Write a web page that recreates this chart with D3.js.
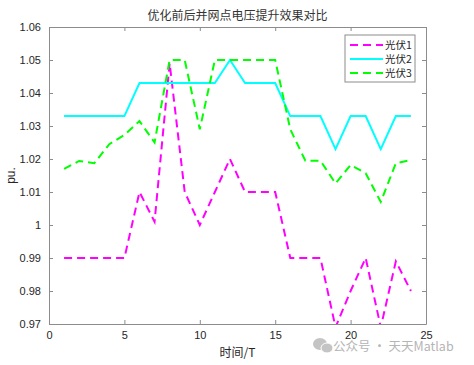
<!DOCTYPE html>
<html>
<head>
<meta charset="utf-8">
<script src="https://cdn.jsdelivr.net/npm/d3@7"></script>
<style>
  body { margin: 0; background: #fff; }
  text { font-family: "Liberation Sans", Arial, sans-serif; }
</style>
</head>
<body>
<div id="chart"></div>
<script>
var times = d3.range(1, 25)
var pv1 = [0.99, 0.99, 0.99, 0.99, 0.99, 1.01, 1.001, 1.049, 1.01, 1.0, 1.01, 1.02,
           1.01, 1.01, 1.01, 0.99, 0.99, 0.99, 0.969, 0.98, 0.99, 0.969, 0.989, 0.98]
var pv2 = [1.033, 1.033, 1.033, 1.033, 1.033, 1.043, 1.043, 1.043, 1.043, 1.043, 1.043, 1.05,
           1.043, 1.043, 1.043, 1.033, 1.033, 1.033, 1.023, 1.033, 1.033, 1.023, 1.033, 1.033]
var pv3 = [1.017, 1.0194, 1.0187, 1.0245, 1.0273, 1.0315, 1.025, 1.05, 1.05, 1.029, 1.05, 1.05,
           1.05, 1.05, 1.05, 1.029, 1.0195, 1.0195, 1.0126, 1.0182, 1.0157, 1.007, 1.0187, 1.0197]
var seriesNames = ["光伏1", "光伏2", "光伏3"]
var seriesColors = ["#ff00ff", "#00ffff", "#00ff00"]
var seriesDash = ["8,5", null, "8,5"]
var xTicks = [0, 5, 10, 15, 20, 25]
var yTicks = [0.97, 0.98, 0.99, 1, 1.01, 1.02, 1.03, 1.04, 1.05, 1.06]

var W = 474, H = 365
var margin = {left: 49, right: 48, top: 27, bottom: 41}
var axisColor = "#8c8c8c"

var svg = d3.select('#chart')
  .append('svg')
  .attr("width", W)
  .attr("height", H)

var x = d3.scaleLinear()
  .domain([0, 25])
  .range([margin.left, W - margin.right])
var y = d3.scaleLinear()
  .domain([0.97, 1.06])
  .range([H - margin.bottom, margin.top])

svg.append("clipPath").attr("id", "clip")
  .append("rect")
  .attr("x", margin.left).attr("y", margin.top)
  .attr("width", W - margin.left - margin.right)
  .attr("height", H - margin.top - margin.bottom)

var series = [pv1, pv2, pv3].map((vals, i) => ({
  name: seriesNames[i], color: seriesColors[i], dash: seriesDash[i],
  values: vals.map((v, j) => [times[j], v])
}))

var line = d3.line()
  .x(d => x(d[0]))
  .y(d => y(d[1]))

svg.append("g")
    .attr("clip-path", "url(#clip)")
  .selectAll("path")
  .data(series)
  .enter()
  .append("path")
    .attr("fill", "none")
    .attr("stroke", d => d.color)
    .attr("stroke-width", 2)
    .attr("stroke-dasharray", d => d.dash)
    .attr("d", d => line(d.values))

// axes, box style with inward ticks
var fmtY = d => d === 1 ? "1" : d3.format(".2f")(d)
svg.append("g")
    .attr("transform", `translate(0,${H - margin.bottom})`)
    .call(d3.axisBottom(x).tickValues(xTicks).tickSize(-4).tickPadding(7).tickSizeOuter(0))
    .call(g => g.selectAll("line,path").attr("stroke", axisColor))
    .call(g => g.selectAll("text").attr("fill", "#262626").style("font-size", "11px"))
svg.append("g")
    .attr("transform", `translate(0,${margin.top})`)
    .call(d3.axisTop(x).tickValues(xTicks).tickSize(-4).tickFormat("").tickSizeOuter(0))
    .call(g => g.selectAll("line,path").attr("stroke", axisColor))
svg.append("g")
    .attr("transform", `translate(${margin.left},0)`)
    .call(d3.axisLeft(y).tickValues(yTicks).tickFormat(fmtY).tickSize(-4).tickPadding(8).tickSizeOuter(0))
    .call(g => g.selectAll("line,path").attr("stroke", axisColor))
    .call(g => g.selectAll("text").attr("fill", "#262626").style("font-size", "11px"))
svg.append("g")
    .attr("transform", `translate(${W - margin.right},0)`)
    .call(d3.axisRight(y).tickValues(yTicks).tickSize(-4).tickFormat("").tickSizeOuter(0))
    .call(g => g.selectAll("line,path").attr("stroke", axisColor))

// title and labels
svg.append("text")
    .attr("x", (margin.left + W - margin.right) / 2)
    .attr("y", 20)
    .attr("text-anchor", "middle")
    .style("font-family", "'Noto Sans CJK SC', sans-serif")
    .style("font-size", "12px")
    .attr("fill", "#333")
    .text("优化前后并网点电压提升效果对比")
svg.append("text")
    .attr("x", (margin.left + W - margin.right) / 2)
    .attr("y", 357)
    .attr("text-anchor", "middle")
    .style("font-family", "'Noto Sans CJK SC', sans-serif")
    .style("font-size", "12px")
    .attr("fill", "#262626")
    .text("时间/T")
svg.append("text")
    .attr("transform", `translate(15,${(margin.top + H - margin.bottom) / 2}) rotate(-90)`)
    .attr("text-anchor", "middle")
    .style("font-size", "12px")
    .attr("fill", "#262626")
    .text("pu.")

// legend
var lg = svg.append("g").attr("transform", "translate(345,35)")
lg.append("rect")
    .attr("width", 70).attr("height", 47)
    .attr("fill", "#fff").attr("stroke", axisColor)
var items = lg.selectAll("g.item").data(series).enter()
  .append("g").attr("class", "item")
  .attr("transform", (d, i) => `translate(0,${10 + i * 14})`)
items.append("line")
    .attr("x1", 5).attr("x2", 38)
    .attr("stroke", d => d.color).attr("stroke-width", 2)
    .attr("stroke-dasharray", d => d.dash)
items.append("text")
    .attr("x", 40).attr("y", 4)
    .style("font-family", "'Noto Sans CJK SC', sans-serif")
    .style("font-size", "10.5px")
    .attr("fill", "#262626")
    .text(d => d.name)

// watermark
var wm = svg.append("g").attr("transform", "translate(312,344)")
wm.append("ellipse").attr("cx", 8).attr("cy", 0).attr("rx", 7).attr("ry", 6).attr("fill", "#c4c4c4")
wm.append("ellipse").attr("cx", 15).attr("cy", 4).attr("rx", 6).attr("ry", 5).attr("fill", "#c4c4c4").attr("stroke", "#fff")
svg.append("text")
    .attr("x", 333).attr("y", 351)
    .style("font-family", "'Noto Sans CJK SC', sans-serif")
    .style("font-size", "12.5px")
    .attr("fill", "#b5b5b5")
    .text("公众号 · 天天Matlab")
</script>
</body>
</html>
